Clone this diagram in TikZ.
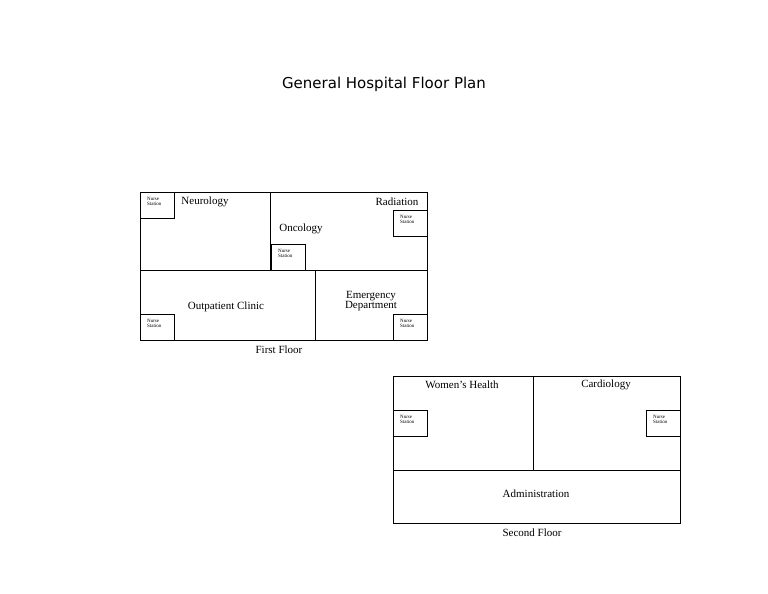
\documentclass[tikz,border=0pt]{standalone}
\usepackage{fontspec}
\setmainfont{Liberation Serif}
\newfontfamily\titlefont{DejaVu Sans}
\begin{document}
\begin{tikzpicture}[x=1pt,y=-1pt,
  room/.style={draw,line width=0.8pt},
  lbl/.style={font=\fontsize{11}{12}\selectfont,align=center},
  ns/.style={font=\fontsize{5}{5.5}\selectfont,align=left,anchor=north west,inner sep=0pt}]
\useasboundingbox (0,0) rectangle (768,594);
\node[font=\titlefont\fontsize{15}{17}\selectfont] (title) at (384,84) {General Hospital Floor Plan};
% First floor
\draw[room] (140,192) rectangle (427,340);
\draw[room] (270,192) -- (270,270);
\draw[room] (140,270) -- (427,270);
\draw[room] (315,270) -- (315,340);
\foreach \x/\y/\n in {140/192/a,393/210/b,271/244/c,140/314/d,393/314/e}{
  \draw[room] (\x,\y) rectangle ++(34,26);
  \node[ns] (ns\n) at (\x+7,\y+5) {Nurse\\Station};
}
\node[lbl] (neuro) at (205,202) {Neurology};
\node[lbl] (onco) at (301,229) {Oncology};
\node[lbl] (rad) at (397,202) {Radiation};
\node[lbl] (out) at (226,307) {Outpatient Clinic};
\node[lbl] (emer) at (371,301) {Emergency\\[-2pt]Department};
\node[lbl] (ff) at (279,350) {First Floor};
% Second floor
\draw[room] (393,376) rectangle (680,523);
\draw[room] (533,376) -- (533,470);
\draw[room] (393,470) -- (680,470);
\foreach \x/\y/\n in {393/410/f,646/410/g}{
  \draw[room] (\x,\y) rectangle ++(34,26);
  \node[ns] (ns\n) at (\x+7,\y+5) {Nurse\\Station};
}
\node[lbl] (women) at (462,385) {Women's Health};
\node[lbl] (card) at (606,385) {Cardiology};
\node[lbl] (admin) at (536,494) {Administration};
\node[lbl] (sf) at (532,533) {Second Floor};
\end{tikzpicture}
\end{document}
